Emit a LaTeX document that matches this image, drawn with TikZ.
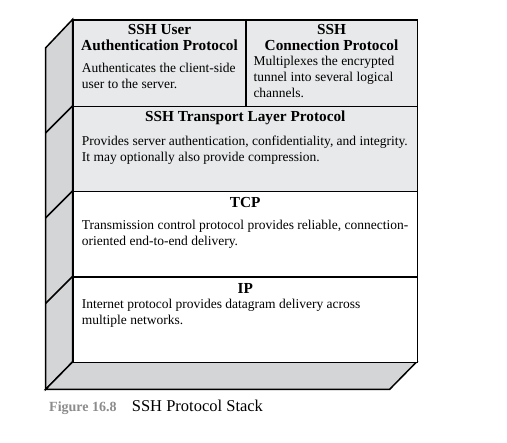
\documentclass[tikz,border=0pt]{standalone}
\usepackage{fontspec}
\setmainfont{Liberation Serif}
\usepackage{xcolor}
\usetikzlibrary{positioning}
\usetikzlibrary{calc}
\definecolor{sidegray}{HTML}{D4D5D6}
\definecolor{panelgray}{HTML}{E8E9EA}
\definecolor{capgray}{HTML}{8C8C8C}

\begin{document}
\begin{tikzpicture}[x=1pt,y=-1pt,
    edge/.style={line width=1.5pt,line join=miter},
    layer/.style={draw,line width=1.5pt,rectangle,inner sep=0pt,anchor=north west,minimum height=85.5pt},
    title/.style={font=\fontsize{15.3}{15.7}\selectfont\bfseries,align=center,anchor=base,inner sep=0pt},
    body/.style={font=\fontsize{13.5}{16}\selectfont,align=left,anchor=base west,inner sep=0pt}]
\useasboundingbox (0,0) rectangle (507,443);

    % back corner of the slab
    \coordinate (back) at (45.5,389.5);

    % side and bottom faces
    \filldraw[edge,fill=sidegray] (72.5,19.5) -- ++(-27,28.5) -- (back) -- (72.5,362) -- cycle;
    \filldraw[edge,fill=sidegray] (72.5,362) -- (back) -- (389.5,389.5) -- (416.5,362) -- cycle;

    % layers
    \node[layer,fill=panelgray,minimum width=172.5pt,minimum height=86.5pt] (user) at (72.5,19.5) {};
    \node[layer,fill=panelgray,minimum width=171.5pt,minimum height=86.5pt] (conn) at (245,19.5) {};
    \node[layer,fill=panelgray,minimum width=344pt,minimum height=85pt] (transport) at (72.5,106) {};
    \node[layer,fill=white,minimum width=344pt] (tcp) at (72.5,191) {};
    \node[layer,fill=white,minimum width=344pt] (ip) at (72.5,276.5) {};

    \foreach \n in {transport,tcp,ip}
        \draw[edge] (\n.north west) -- ++(-27,27);

    % texts (base = last line)
    \node[title] (usertitle) at ($(user.north)+(0,31.2)$) {SSH User\\Authentication Protocol};
    \node[body] (usertext) at ($(user.north west)+(9.2,68.8)$) {Authenticates the client-side\\user to the server.};

    \node[title] (conntitle) at ($(conn.north)+(0,31.2)$) {SSH\\Connection Protocol};
    \node[body] (conntext) at ($(conn.north west)+(8.3,78.5)$) {Multiplexes the encrypted\\tunnel into several logical\\channels.};

    \node[title] (transporttitle) at ($(transport.north)+(0,15.7)$) {SSH Transport Layer Protocol};
    \node[body] (transporttext) at ($(transport.north west)+(9.2,55.5)$) {Provides server authentication, confidentiality, and integrity.\\It may optionally also provide compression.};

    \node[title] (tcptitle) at ($(tcp.north)+(0,16.3)$) {TCP};
    \node[body] (tcptext) at ($(tcp.north west)+(9.2,55)$) {Transmission control protocol provides reliable, connection-\\oriented end-to-end delivery.};

    \node[title] (iptitle) at ($(ip.north)+(0,16.8)$) {IP};
    \node[body] (iptext) at ($(ip.north west)+(9.2,47.8)$) {Internet protocol provides datagram delivery across\\multiple networks.};

    % caption
    \node[anchor=base west,inner sep=0pt,font=\fontsize{14}{16}\selectfont\bfseries,text=capgray] (fignum) at (49,411.7) {Figure 16.8};
    \node[anchor=base west,inner sep=0pt,font=\fontsize{16.5}{18}\selectfont] (figcap) at (131.7,411.7) {SSH Protocol Stack};

\end{tikzpicture}
\end{document}
